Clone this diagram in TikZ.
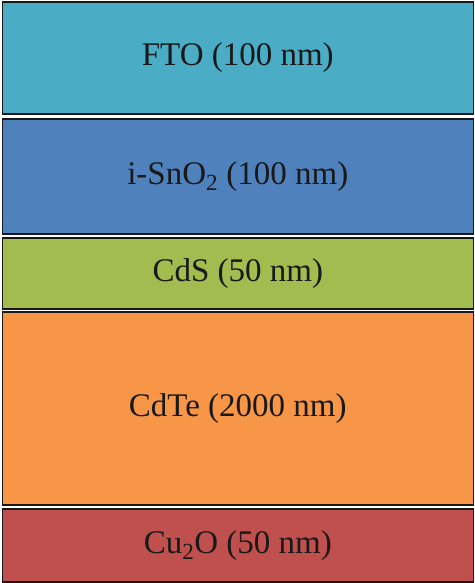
\documentclass[tikz,border=0pt]{standalone}
\usepackage{fontspec}
\setmainfont{Liberation Serif}
\definecolor{cFTO}{HTML}{4BACC6}
\definecolor{cSnO}{HTML}{4F81BD}
\definecolor{cCdS}{HTML}{A2BC4F}
\definecolor{cCdTe}{HTML}{F79646}
\definecolor{cCuO}{HTML}{C0504D}
\tikzset{
  layer/.style={draw=black!90, line width=1.6pt, rectangle, minimum width=471pt, inner sep=0pt, font=\fontsize{33}{37}\selectfont, text=black!90, anchor=north west}
}
\begin{document}
\begin{tikzpicture}[x=1pt,y=1pt]
\useasboundingbox (0,0) rectangle (474,583);
\node[layer, fill=cFTO, minimum height=112pt] (fto) at (1.5,582) {FTO (100 nm)};
\node[layer, fill=cSnO, minimum height=115pt] (sno) at (1.5,465) {i-SnO\textsubscript{2} (100 nm)};
\node[layer, fill=cCdS, minimum height=71pt] (cds) at (1.5,346) {CdS (50 nm)};
\node[layer, fill=cCdTe, minimum height=193pt] (cdte) at (1.5,272) {CdTe (2000 nm)};
\node[layer, fill=cCuO, minimum height=73pt] (cuo) at (1.5,75) {Cu\textsubscript{2}O (50 nm)};
\end{tikzpicture}
\end{document}
